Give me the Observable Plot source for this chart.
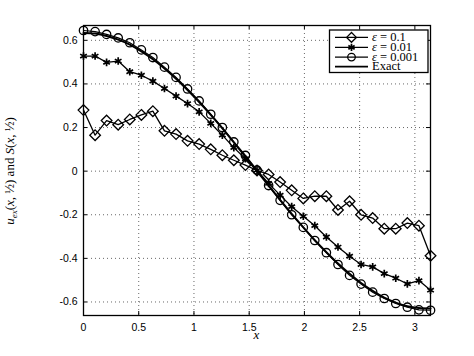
<!DOCTYPE html>
<html>
<head>
<meta charset="utf-8">
<script src="https://cdn.jsdelivr.net/npm/d3@7"></script>
<script src="https://cdn.jsdelivr.net/npm/@observablehq/plot@0.6"></script>
<style>
  html, body { margin: 0; padding: 0; background: white; }
</style>
</head>
<body>
<div id="chart"></div>
<script>
// x positions of the samples (0 .. pi, 31 points)
const xs = [0, 0.105, 0.209, 0.314, 0.419, 0.524, 0.628, 0.733, 0.838, 0.942, 1.047,
  1.152, 1.257, 1.361, 1.466, 1.571, 1.676, 1.780, 1.885, 1.990, 2.094,
  2.199, 2.304, 2.409, 2.513, 2.618, 2.723, 2.827, 2.932, 3.037, 3.142];

// epsilon = 0.1 (diamonds)
const eps1 = [0.28, 0.165, 0.232, 0.213, 0.237, 0.258, 0.275, 0.185, 0.17, 0.139, 0.124,
  0.10, 0.073, 0.05, 0.028, 0.003, -0.015, -0.05, -0.088, -0.125, -0.115,
  -0.115, -0.178, -0.138, -0.2, -0.215, -0.264, -0.264, -0.238, -0.25, -0.388];

// epsilon = 0.01 (stars)
const eps2 = [0.528, 0.528, 0.499, 0.505, 0.456, 0.44, 0.413, 0.379, 0.344, 0.31, 0.272,
  0.219, 0.165, 0.108, 0.057, 0.004, -0.056, -0.11, -0.163, -0.207, -0.25,
  -0.302, -0.348, -0.39, -0.428, -0.439, -0.47, -0.491, -0.517, -0.502, -0.546];

// epsilon = 0.001 (circles)
const eps3 = [0.645, 0.64, 0.627, 0.611, 0.589, 0.556, 0.521, 0.477, 0.43, 0.377, 0.322,
  0.261, 0.2, 0.134, 0.072, 0.005, -0.066, -0.134, -0.2, -0.258, -0.318,
  -0.374, -0.428, -0.478, -0.518, -0.555, -0.584, -0.607, -0.624, -0.636, -0.638];

// exact solution S(x, 1/2)
const exact = [0.634, 0.631, 0.62, 0.603, 0.58, 0.549, 0.513, 0.471, 0.424, 0.372, 0.317,
  0.258, 0.196, 0.132, 0.066, 0.0, -0.066, -0.132, -0.196, -0.258, -0.317,
  -0.372, -0.424, -0.471, -0.513, -0.549, -0.58, -0.603, -0.62, -0.628, -0.63];

const xTicks = [0, 0.5, 1, 1.5, 2, 2.5, 3];
const yTicks = [-0.6, -0.4, -0.2, 0, 0.2, 0.4, 0.6];
const legendLabels = ["0.1", "0.01", "0.001"];

const rows = (ys) => xs.map((x, i) => ({x, y: ys[i]}));
const d1 = rows(eps1), d2 = rows(eps2), d3r = rows(eps3), dE = rows(exact);

const yMin = -0.662, yMax = 0.668, xMin = 0, xMax = 3.1416;
const tickLenY = 4 / 218, tickLenX = 4 / 110.3;

const grid = {stroke: "black", strokeOpacity: 0.75, strokeWidth: 0.8, strokeDasharray: "1,3"};

const chart = Plot.plot({
  width: 474,
  height: 356,
  marginLeft: 83,
  marginRight: 44,
  marginTop: 25,
  marginBottom: 41,
  x: {domain: [xMin, xMax]},
  y: {domain: [yMin, yMax]},
  style: {fontFamily: "'Liberation Sans', Arial, sans-serif", fontSize: "10.5px", color: "black", background: "white"},
  marks: [
    Plot.gridX(xTicks.filter(t => t > 0), grid),
    Plot.gridY(yTicks, grid),
    Plot.line(dE, {x: "x", y: "y", stroke: "black", strokeWidth: 2, curve: "natural"}),
    Plot.line(d3r, {x: "x", y: "y", stroke: "black", strokeWidth: 1.2}),
    Plot.dot(d3r, {x: "x", y: "y", symbol: "circle", r: 4.2, stroke: "black", strokeWidth: 1.3, fill: "none"}),
    Plot.line(d2, {x: "x", y: "y", stroke: "black", strokeWidth: 1.3}),
    Plot.dot(d2, {x: "x", y: "y", symbol: "asterisk", r: 3.6, stroke: "black", strokeWidth: 1.7}),
    Plot.line(d1, {x: "x", y: "y", stroke: "black", strokeWidth: 1.3}),
    Plot.dot(d1, {x: "x", y: "y", symbol: "diamond2", r: 4.8, stroke: "black", strokeWidth: 1.3, fill: "none"}),
    // inward ticks on all four sides
    Plot.ruleX(xTicks, {x: d => d, y1: yMin, y2: yMin + tickLenY, stroke: "black"}),
    Plot.ruleX(xTicks, {x: d => d, y1: yMax, y2: yMax - tickLenY, stroke: "black"}),
    Plot.ruleY(yTicks, {y: d => d, x1: xMin, x2: xMin + tickLenX, stroke: "black"}),
    Plot.ruleY(yTicks, {y: d => d, x1: xMax, x2: xMax - tickLenX, stroke: "black"}),
    Plot.axisX(xTicks, {tickSize: 0, tickPadding: 8, tickFormat: d => String(d), label: null}),
    Plot.axisY(yTicks, {tickSize: 0, tickPadding: 6, tickFormat: d => String(d), label: null}),
    Plot.frame({stroke: "black", strokeWidth: 1.3})
  ]
});

document.getElementById("chart").appendChild(chart);

const svg = d3.select(chart);
const serif = "'Liberation Serif', 'Times New Roman', serif";

// x label
svg.append("text")
  .attr("x", 256.5).attr("y", 339)
  .attr("text-anchor", "middle")
  .style("font-family", serif).style("font-size", "13px").style("font-style", "italic")
  .text("x");

// y label
const yl = svg.append("text")
  .attr("transform", "translate(14,171) rotate(-90)")
  .attr("text-anchor", "middle")
  .style("font-family", serif).style("font-size", "13px");
yl.append("tspan").style("font-style", "italic").text("u");
yl.append("tspan").style("font-style", "italic").style("font-size", "9px").attr("dy", 3).text("ex");
yl.append("tspan").attr("dy", -3).text("(");
yl.append("tspan").style("font-style", "italic").text("x");
yl.append("tspan").text(", ½) and ");
yl.append("tspan").style("font-style", "italic").text("S");
yl.append("tspan").text("(");
yl.append("tspan").style("font-style", "italic").text("x");
yl.append("tspan").text(", ½)");

// legend
const lg = svg.append("g").attr("text-anchor", "start");
lg.append("rect").attr("x", 329.5).attr("y", 30).attr("width", 98.5).attr("height", 42.5)
  .attr("fill", "white").attr("stroke", "black").attr("stroke-width", 1.3);
const rowsY = [37.4, 47.4, 57.1, 66.6];
const syms = [d3.symbolDiamond2, d3.symbolAsterisk, d3.symbolCircle, null];
const rs = [4.4, 3.4, 3.8, 0];
[0, 1, 2, 3].forEach(i => {
  const y = rowsY[i];
  lg.append("line").attr("x1", 335).attr("x2", 368).attr("y1", y).attr("y2", y)
    .attr("stroke", "black").attr("stroke-width", i === 3 ? 1.8 : 1.3);
  if (syms[i]) {
    lg.append("path")
      .attr("d", d3.symbol(syms[i], Math.PI * rs[i] * rs[i])())
      .attr("transform", `translate(351.5,${y})`)
      .attr("fill", "none").attr("stroke", "black").attr("stroke-width", i === 1 ? 1.7 : 1.3);
  }
  const t = lg.append("text").attr("x", 372).attr("y", y + 3.8)
    .attr("text-anchor", "start")
    .style("font-family", serif).style("font-size", "12.5px");
  if (i < 3) {
    t.append("tspan").style("font-style", "italic").text("ε");
    t.append("tspan").text(" = " + legendLabels[i]);
  } else {
    t.text("Exact");
  }
});
</script>
</body>
</html>
